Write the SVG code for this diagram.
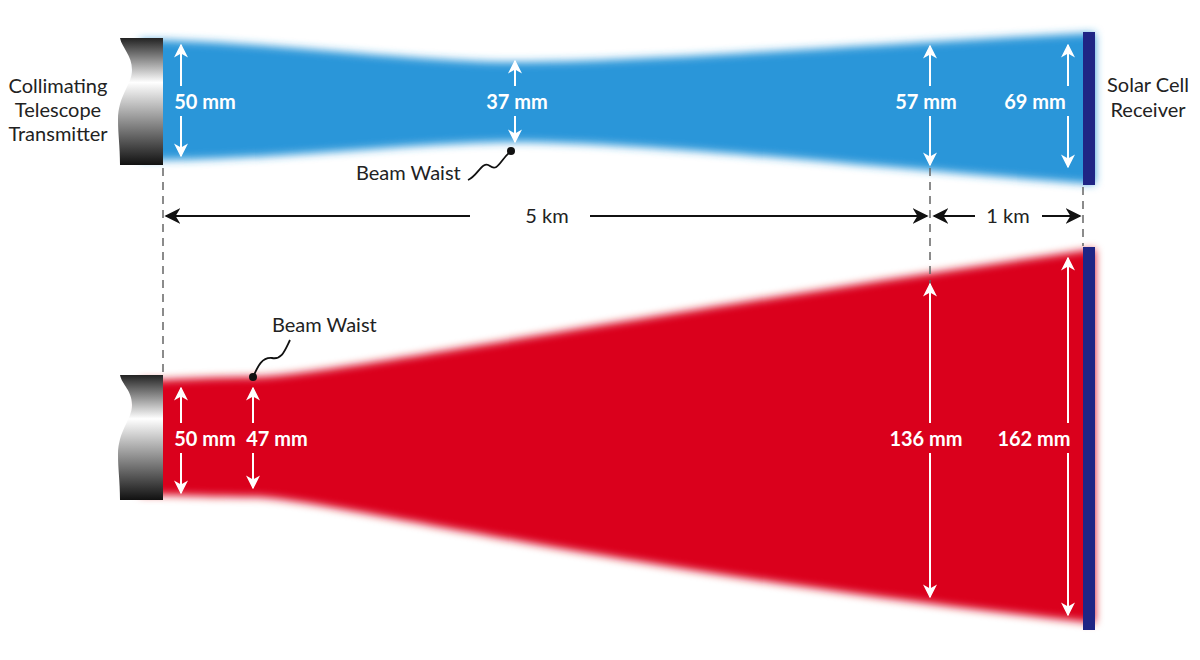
<svg xmlns="http://www.w3.org/2000/svg" width="1200" height="660" viewBox="0 0 1200 660">
<defs>
<style>
.lbl{font-family:Lato,"Liberation Sans",sans-serif;font-size:20px;fill:#222}
.w{font-family:Lato,"Liberation Sans",sans-serif;font-size:20px;font-weight:bold;fill:#fff;text-anchor:middle}
.wa{stroke:#fff;stroke-width:2;marker-end:url(#wh)}
.dash{stroke:#666;stroke-width:1.5;stroke-dasharray:8 6;fill:none}
.dim{stroke:#111;stroke-width:2;marker-end:url(#bh)}
</style>
<marker id="wh" viewBox="0 0 10 10" refX="9" refY="5" markerWidth="7" markerHeight="7" orient="auto"><path d="M0,0 L10,5 L0,10 L3,5z" fill="#fff"/></marker>
<marker id="bh" viewBox="0 0 10 10" refX="9" refY="5" markerWidth="8" markerHeight="8" orient="auto"><path d="M0,0 L10,5 L0,10 L3,5z" fill="#111"/></marker>
<filter id="blur" x="-5%" y="-20%" width="110%" height="140%"><feGaussianBlur stdDeviation="4"/></filter>
<linearGradient id="tel" x1="0" y1="0" x2="0" y2="1">
<stop offset="0" stop-color="#222"/><stop offset="0.35" stop-color="#fff"/><stop offset="1" stop-color="#111"/>
</linearGradient>
</defs>
<rect width="1200" height="660" fill="#fff"/>
<g id="beams">
<path filter="url(#blur)" fill="#2a96d9" d="M140,40 L163,40 C300,45 420,62 515,62 C650,62 900,42 1095,33 L1095,184 C900,170 650,142 515,142 C420,142 300,158 163,160 L140,160 Z"/>
<path filter="url(#blur)" fill="#da001c" d="M140,380 L163,380 C200,378 230,377 253,377 C320,377 600,320 1095,249 L1095,623 C600,570 320,497 253,497 C230,497 200,496 163,495 L140,495 Z"/>
</g>
<g id="transmitter-top"><path d="M120,38 L163,38 L163,165 L120,165 C120,145 118,135 118,120 C118,95 132,85 132,70 C132,55 122,48 120,38 Z" fill="url(#tel)"/></g>
<g id="transmitter-bottom"><path d="M120,375 L163,375 L163,500 L120,500 C120,480 118,470 118,455 C118,430 132,420 132,405 C132,390 122,385 120,375 Z" fill="url(#tel)"/></g>
<g id="receiver-top"><rect x="1083" y="32" width="12" height="153" fill="#1f2585"/></g>
<g id="receiver-bottom"><rect x="1083" y="247" width="12" height="383" fill="#1f2585"/></g>
<g id="connectors">
<path class="dash" d="M163,168 V372 M930,168 V292 M1083,187 V246"/>
<line class="dim" x1="470" y1="216" x2="166" y2="216"/>
<line class="dim" x1="590" y1="216" x2="927" y2="216"/>
<line class="dim" x1="975" y1="216" x2="934" y2="216"/>
<line class="dim" x1="1042" y1="216" x2="1080" y2="216"/>
<line class="wa" x1="181" y1="86" x2="181" y2="45"/><line class="wa" x1="181" y1="116" x2="181" y2="156"/>
<line class="wa" x1="515" y1="86" x2="515" y2="61"/><line class="wa" x1="515" y1="116" x2="515" y2="142"/>
<line class="wa" x1="930" y1="86" x2="930" y2="46"/><line class="wa" x1="930" y1="116" x2="930" y2="165"/>
<line class="wa" x1="1068" y1="86" x2="1068" y2="45"/><line class="wa" x1="1068" y1="116" x2="1068" y2="167"/>
<line class="wa" x1="181" y1="423" x2="181" y2="388"/><line class="wa" x1="181" y1="453" x2="181" y2="493"/>
<line class="wa" x1="253" y1="423" x2="253" y2="388"/><line class="wa" x1="253" y1="453" x2="253" y2="488"/>
<line class="wa" x1="930" y1="423" x2="930" y2="284"/><line class="wa" x1="930" y1="453" x2="930" y2="597"/>
<line class="wa" x1="1068" y1="423" x2="1068" y2="258"/><line class="wa" x1="1068" y1="453" x2="1068" y2="615"/>
<path d="M511,151 C500,160 498,172 490,166 C482,160 478,176 468,180" stroke="#111" stroke-width="1.8" fill="none"/>
<circle cx="511" cy="151" r="4" fill="#111"/>
<path d="M253,377 C258,366 262,357 272,358 C282,360 285,350 290,340" stroke="#111" stroke-width="1.8" fill="none"/>
<circle cx="253" cy="377" r="4" fill="#111"/>
</g>
<g id="labels">
<text class="lbl" x="58" y="93" text-anchor="middle">Collimating</text>
<text class="lbl" x="58" y="117" text-anchor="middle">Telescope</text>
<text class="lbl" x="58" y="141" text-anchor="middle">Transmitter</text>
<text class="lbl" x="1148" y="92" text-anchor="middle">Solar Cell</text>
<text class="lbl" x="1148" y="117" text-anchor="middle">Receiver</text>
<text class="lbl" x="356" y="180">Beam Waist</text>
<text class="lbl" x="272" y="332">Beam Waist</text>
<text class="lbl" x="547" y="223" text-anchor="middle">5 km</text>
<text class="lbl" x="1008" y="223" text-anchor="middle">1 km</text>
<text class="w" x="205" y="109">50 mm</text>
<text class="w" x="517" y="109">37 mm</text>
<text class="w" x="926" y="109">57 mm</text>
<text class="w" x="1035" y="109">69 mm</text>
<text class="w" x="205" y="446">50 mm</text>
<text class="w" x="277" y="446">47 mm</text>
<text class="w" x="926" y="446">136 mm</text>
<text class="w" x="1034" y="446">162 mm</text>
</g>
</svg>
